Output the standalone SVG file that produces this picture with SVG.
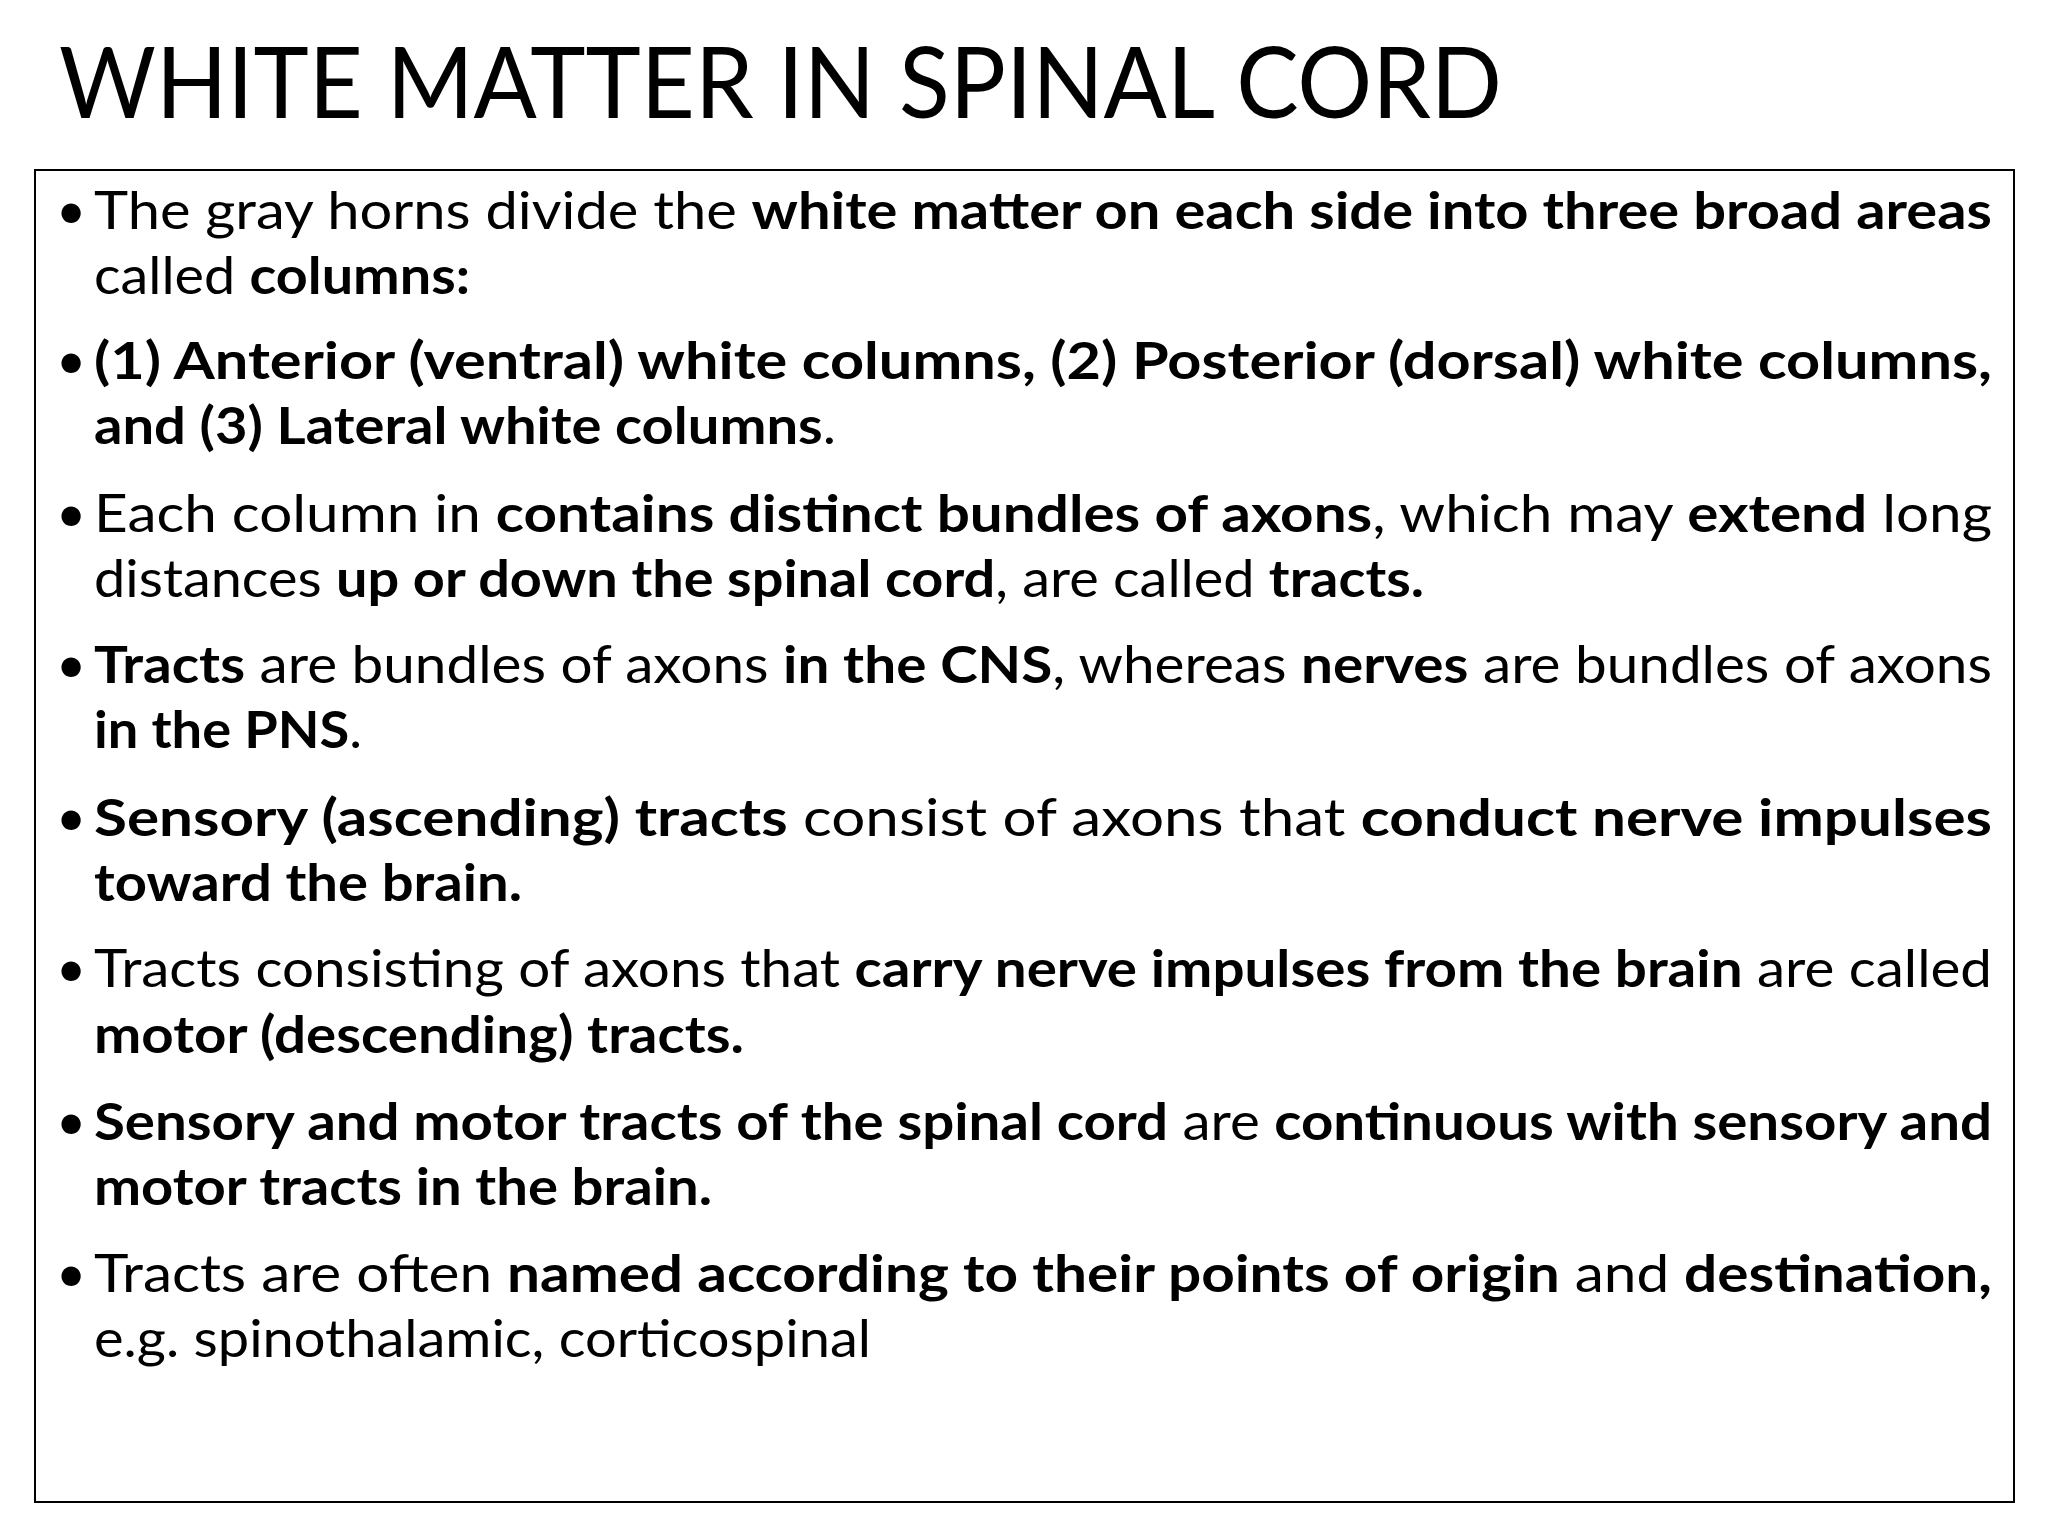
<svg xmlns="http://www.w3.org/2000/svg" width="2048" height="1536" viewBox="0 0 2048 1536">
<style>
.t{font-family:Lato,"Open Sans","Liberation Sans",sans-serif;font-size:52px;fill:#000}
.b{font-weight:bold}
.title{font-family:Lato,"Open Sans","Liberation Sans",sans-serif;font-size:98px;fill:#000}
</style>
<rect width="2048" height="1536" fill="#fff"/>
<text id="title" class="title" x="59" y="118" textLength="1443" lengthAdjust="spacingAndGlyphs">WHITE MATTER IN SPINAL CORD</text>
<rect id="box" x="35" y="170" width="1979" height="1332" fill="none" stroke="#000" stroke-width="2"/>
<g id="bullets" class="t">
<text x="56" y="229">•</text><text x="56" y="379">•</text><text x="56" y="532">•</text><text x="56" y="683">•</text>
<text x="56" y="836">•</text><text x="56" y="987">•</text><text x="56" y="1140">•</text><text x="56" y="1292">•</text>
</g>
<g id="body" class="t">
<text x="94" y="229" textLength="1898" lengthAdjust="spacingAndGlyphs">The gray horns divide the <tspan class="b">white matter on each side into three broad areas</tspan></text>
<text x="94" y="294" textLength="376" lengthAdjust="spacingAndGlyphs">called <tspan class="b">columns:</tspan></text>
<text x="94" y="379" textLength="1898" lengthAdjust="spacingAndGlyphs" class="b">(1) Anterior (ventral) white columns, (2) Posterior (dorsal) white columns,</text>
<text x="94" y="444" textLength="742" lengthAdjust="spacingAndGlyphs"><tspan class="b">and (3) Lateral white columns</tspan>.</text>
<text x="94" y="532" textLength="1898" lengthAdjust="spacingAndGlyphs">Each column in <tspan class="b">contains distinct bundles of axons</tspan>, which may <tspan class="b">extend</tspan> long</text>
<text x="94" y="597" textLength="1330" lengthAdjust="spacingAndGlyphs">distances <tspan class="b">up or down the spinal cord</tspan>, are called <tspan class="b">tracts.</tspan></text>
<text x="94" y="683" textLength="1898" lengthAdjust="spacingAndGlyphs"><tspan class="b">Tracts</tspan> are bundles of axons <tspan class="b">in the CNS</tspan>, whereas <tspan class="b">nerves</tspan> are bundles of axons</text>
<text x="94" y="748" textLength="268" lengthAdjust="spacingAndGlyphs"><tspan class="b">in the PNS</tspan>.</text>
<text x="94" y="836" textLength="1898" lengthAdjust="spacingAndGlyphs"><tspan class="b">Sensory (ascending) tracts</tspan> consist of axons that <tspan class="b">conduct nerve impulses</tspan></text>
<text x="94" y="901" textLength="428" lengthAdjust="spacingAndGlyphs" class="b">toward the brain.</text>
<text x="94" y="987" textLength="1898" lengthAdjust="spacingAndGlyphs">Tracts consisting of axons that <tspan class="b">carry nerve impulses from the brain</tspan> are called</text>
<text x="94" y="1053" textLength="650" lengthAdjust="spacingAndGlyphs" class="b">motor (descending) tracts.</text>
<text x="94" y="1140" textLength="1898" lengthAdjust="spacingAndGlyphs"><tspan class="b">Sensory and motor tracts of the spinal cord</tspan> are <tspan class="b">continuous with sensory and</tspan></text>
<text x="94" y="1205" textLength="618" lengthAdjust="spacingAndGlyphs" class="b">motor tracts in the brain.</text>
<text x="94" y="1292" textLength="1898" lengthAdjust="spacingAndGlyphs">Tracts are often <tspan class="b">named according to their points of origin</tspan> and <tspan class="b">destination,</tspan></text>
<text x="94" y="1357" textLength="777" lengthAdjust="spacingAndGlyphs">e.g. spinothalamic, corticospinal</text>
</g>
</svg>
